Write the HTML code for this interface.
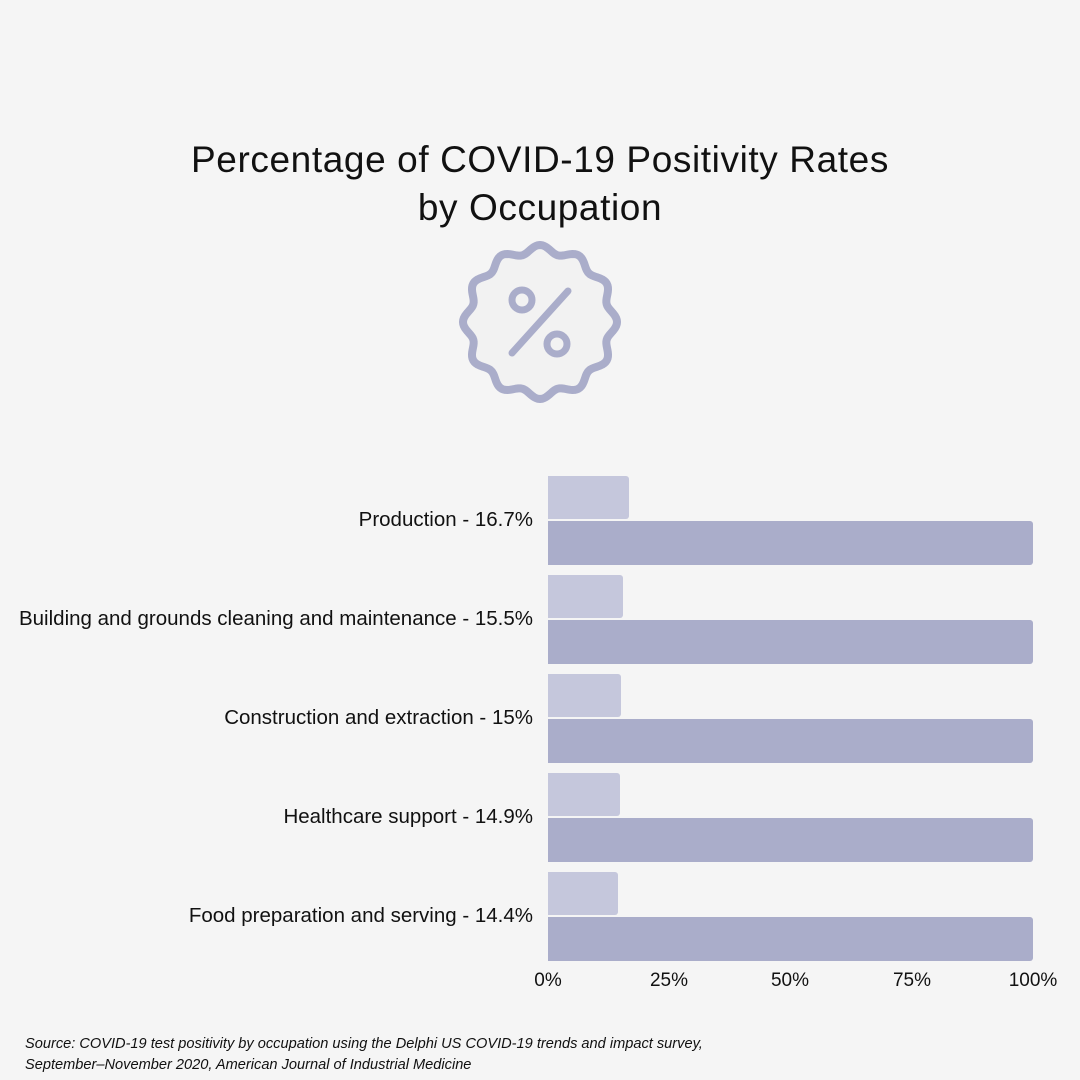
<!DOCTYPE html>
<html><head><meta charset="utf-8"><style>
body{margin:0;width:1080px;height:1080px;background:#f5f5f5;position:relative;overflow:hidden;font-family:"Liberation Sans",sans-serif;color:#111}
.t{position:absolute;left:0;width:1080px;text-align:center;font-size:37px;letter-spacing:0.6px}
.lab{position:absolute;right:547px;font-size:20.5px;white-space:nowrap}
.b1{position:absolute;left:548px;height:43px;background:#c5c7dc;border-radius:0 3px 3px 0}
.b2{position:absolute;left:548px;width:485px;height:44px;background:#aaadca;border-radius:0 3px 3px 0}
.tk{position:absolute;top:970px;font-size:19px;transform:translateX(-50%)}
.src{position:absolute;left:25px;font-size:14.6px;font-style:italic}
</style></head><body>
<div class="t" style="top:139px">Percentage of COVID-19 Positivity Rates</div>
<div class="t" style="top:187px">by Occupation</div>
<svg width="1080" height="1080" style="position:absolute;left:0;top:0">
<path id="badge" fill="#f2f2f2" stroke="#aaadca" stroke-width="8" stroke-linejoin="round"/>
<g stroke="#aaadca" stroke-width="7" fill="none" stroke-linecap="round">
<circle cx="522" cy="300" r="10"/><circle cx="557" cy="344" r="10"/>
<line x1="512" y1="353" x2="568" y2="291"/></g>
</svg>
<script>
var d="",cx=540,cy=322,n=240;
for(var i=0;i<=n;i++){var a=i/n*2*Math.PI;var r=73+4*Math.cos(12*a);
d+=(i?"L":"M")+(cx+r*Math.sin(a)).toFixed(2)+","+(cy-r*Math.cos(a)).toFixed(2);}
document.getElementById("badge").setAttribute("d",d+"Z");
</script>
<div class="b1" style="top:476px;width:81px"></div><div class="b2" style="top:521px"></div>
<div class="b1" style="top:575px;width:75px"></div><div class="b2" style="top:620px"></div>
<div class="b1" style="top:674px;width:73px"></div><div class="b2" style="top:719px"></div>
<div class="b1" style="top:773px;width:72px"></div><div class="b2" style="top:818px"></div>
<div class="b1" style="top:872px;width:70px"></div><div class="b2" style="top:917px"></div>
<div class="lab" style="top:508px">Production - 16.7%</div>
<div class="lab" style="top:607px">Building and grounds cleaning and maintenance - 15.5%</div>
<div class="lab" style="top:706px">Construction and extraction - 15%</div>
<div class="lab" style="top:805px">Healthcare support - 14.9%</div>
<div class="lab" style="top:904px">Food preparation and serving - 14.4%</div>
<div class="tk" style="left:548px">0%</div>
<div class="tk" style="left:669px">25%</div>
<div class="tk" style="left:790px">50%</div>
<div class="tk" style="left:912px">75%</div>
<div class="tk" style="left:1033px">100%</div>
<div class="src" style="top:1036px">Source: COVID-19 test positivity by occupation using the Delphi US COVID-19 trends and impact survey,</div>
<div class="src" style="top:1057px">September–November 2020, American Journal of Industrial Medicine</div>
</body></html>
